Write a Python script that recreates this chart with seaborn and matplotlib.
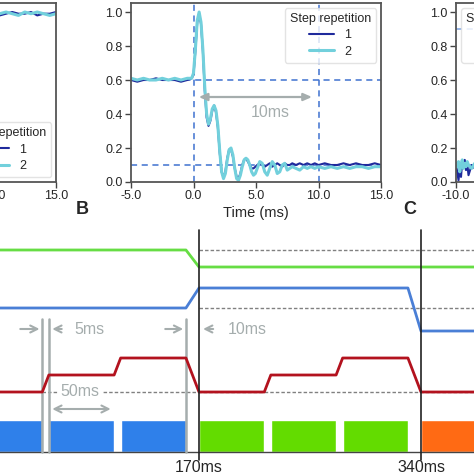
import pandas as pd
import matplotlib
matplotlib.use('Agg')
import matplotlib.pyplot as plt
import seaborn as sns

sns.set_style('ticks')
plt.rcParams['font.family'] = ['Liberation Sans', 'DejaVu Sans']
plt.rcParams['axes.unicode_minus'] = False

# ---------------- step responses ----------------
# panel A (only its right end is visible)
time_a = [9.0, 9.5, 10.0, 10.5, 11.0, 11.5, 12.0, 12.5, 13.0, 13.5, 14.0, 14.5, 15.0]
rep1_a = [0.99, 1.00, 0.99, 0.98, 0.99, 1.00, 0.99, 0.99, 1.00, 0.98, 0.99, 0.99, 1.00]
rep2_a = [1.00, 0.99, 1.00, 0.99, 1.00, 0.99, 0.98, 1.00, 0.99, 1.00, 0.99, 0.98, 0.99]

# panel B
pre_t = [-5.0, -4.5, -4.0, -3.5, -3.0, -2.5, -2.0, -1.5, -1.0, -0.5, -0.15]
step_t = [0.0, 0.15, 0.3, 0.45, 0.6, 0.75, 0.9, 1.05, 1.2, 1.35, 1.5, 1.65, 1.8, 1.95,
          2.1, 2.25, 2.4, 2.55, 2.7, 2.85, 3.0, 3.15, 3.3, 3.45, 3.6, 3.75, 3.9, 4.05,
          4.2, 4.35, 4.5, 4.65, 4.8, 4.95]
tail_t = [5.1, 5.3, 5.5, 5.7, 5.9, 6.1, 6.3, 6.5, 6.7, 6.9, 7.1, 7.3, 7.5, 7.7, 7.9, 8.2,
          8.5, 8.8, 9.1, 9.4, 9.7, 10.0, 10.5, 11.0, 11.5, 12.0, 12.5, 13.0, 13.5, 14.0,
          14.5, 15.0]
time_b = pre_t + step_t + tail_t

rep1_b = ([0.60, 0.59, 0.60, 0.60, 0.61, 0.60, 0.60, 0.60, 0.59, 0.60, 0.61]
          + [0.63, 0.77, 0.94, 0.99, 0.93, 0.77, 0.54, 0.38, 0.33, 0.36, 0.42, 0.45, 0.41,
             0.32, 0.17, 0.06, 0.03, 0.06, 0.14, 0.19, 0.19, 0.15, 0.08, 0.03, 0.02, 0.05,
             0.10, 0.13, 0.14, 0.12, 0.10, 0.08, 0.08, 0.09]
          + [0.10, 0.11, 0.10, 0.09, 0.10, 0.11, 0.09, 0.10, 0.11, 0.10, 0.09, 0.11, 0.10,
             0.10, 0.11, 0.10, 0.11, 0.10, 0.11, 0.10, 0.11, 0.10, 0.11, 0.10, 0.10, 0.11,
             0.10, 0.11, 0.10, 0.10, 0.11, 0.10])
rep2_b = ([0.61, 0.60, 0.61, 0.60, 0.60, 0.61, 0.60, 0.61, 0.60, 0.61, 0.61]
          + [0.64, 0.78, 0.95, 1.00, 0.94, 0.78, 0.56, 0.40, 0.34, 0.37, 0.43, 0.45, 0.42,
             0.33, 0.18, 0.06, 0.02, 0.05, 0.13, 0.19, 0.20, 0.16, 0.08, 0.02, 0.01, 0.04,
             0.09, 0.13, 0.14, 0.13, 0.10, 0.06, 0.04, 0.05]
          + [0.08, 0.12, 0.11, 0.06, 0.04, 0.08, 0.12, 0.10, 0.05, 0.06, 0.10, 0.11, 0.07,
             0.08, 0.09, 0.08, 0.07, 0.09, 0.08, 0.09, 0.08, 0.09, 0.08, 0.09, 0.08, 0.09,
             0.08, 0.09, 0.09, 0.08, 0.09, 0.09])

# panel C (only its left end is visible)
time_c = [-10.0, -9.8, -9.6, -9.4, -9.2, -9.0, -8.8, -8.6, -8.4, -8.2, -8.0, -7.5, -7.0, -6.5, -6.0]
rep1_c = [0.10, 0.06, 0.01, 0.08, 0.03, 0.12, 0.09, 0.13, 0.07, 0.11, 0.04, 0.10, 0.08, 0.12, 0.09]
rep2_c = [0.11, 0.09, 0.12, 0.06, 0.10, 0.13, 0.08, 0.11, 0.09, 0.12, 0.10, 0.08, 0.11, 0.10, 0.09]

# ---------------- timing diagram (ms, arbitrary levels) ----------------
green_t = [0, 160, 170, 400]
green_y = [224, 224, 207, 207]
blue_t = [0, 160, 170, 330, 340, 400]
blue_y = [166, 166, 186, 186, 143, 143]
red_t = [0, 50, 55, 105, 110, 160, 170, 220, 225, 275, 280, 330, 340, 400]
red_y = [82, 82, 99, 99, 116, 116, 82, 82, 99, 99, 116, 116, 82, 82]
blue_blocks = [(0, 50), (55, 50), (110, 50)]
green_blocks = [(170, 50), (225, 50), (280, 50)]
orange_blocks = [(340, 60)]
markers = [170, 340]
marker_labels = ['170ms', '340ms']

DARK = '#1f2a9c'
CYAN = '#72d0dc'
DASH_BLUE = '#3f72cf'
GRAY = '#a5adad'
W = H = 474


def px_rect(l, t, r, b):
    return [l / W, 1 - b / H, (r - l) / W, (b - t) / H]


def step_panel(rect, t, r1, r2, xlim, xticks, loc):
    ax = fig.add_axes(px_rect(*rect))
    sns.lineplot(x=t, y=r1, color=DARK, lw=1.5, label='1', ax=ax)
    sns.lineplot(x=t, y=r2, color=CYAN, lw=2.2, label='2', ax=ax)
    ax.set_xlim(*xlim)
    ax.set_ylim(0, 1.053)
    ax.set_xticks(xticks)
    ax.set_yticks([0, 0.2, 0.4, 0.6, 0.8, 1.0])
    ax.xaxis.set_major_formatter('{x:.1f}')
    ax.yaxis.set_major_formatter('{x:.1f}')
    ax.tick_params(labelsize=9, length=4, width=1, color='#444', pad=2)
    for s in ax.spines.values():
        s.set_color('#555')
        s.set_linewidth(1.3)
    leg = ax.legend(title='Step repetition', loc=loc, fontsize=9, title_fontsize=9,
                    borderaxespad=0.4, labelspacing=0.35)
    leg.get_frame().set_edgecolor('#dddddd')
    return ax


fig = plt.figure(figsize=(4.74, 4.74), dpi=100)

ax_a = step_panel((-194, 3, 56, 182), time_a, rep1_a, rep2_a, (-5, 15), [-5, 0, 5, 10, 15], 'lower right')

ax_b = step_panel((131, 3, 381, 182), time_b, rep1_b, rep2_b, (-5, 15), [-5, 0, 5, 10, 15], 'upper right')
for yv in (0.6, 0.1):
    ax_b.axhline(yv, color=DASH_BLUE, lw=1.1, ls=(0, (4, 3)), zorder=1)
for xv in (0, 10):
    ax_b.axvline(xv, color=DASH_BLUE, lw=1.1, ls=(0, (4, 3)), zorder=1)
ax_b.annotate('', xy=(0.2, 0.5), xytext=(9.7, 0.5),
              arrowprops=dict(arrowstyle='<|-|>,head_length=0.5,head_width=0.22', color=GRAY, lw=1.6))
ax_b.text(6.1, 0.41, '10ms', color=GRAY, fontsize=11.5, ha='center', va='center')
ax_b.set_xlabel('Time (ms)', fontsize=10.5, labelpad=3)

ax_c = step_panel((456, 3, 706, 182), time_c, rep1_c, rep2_c, (-10, 30), [-10, 0, 10, 20, 30], 'upper left')
for yv in (0.9, 0.1):
    ax_c.axhline(yv, color='#7aa3e4', lw=1.1, ls=(0, (4, 3)), zorder=1)

fig.text(82 / W, 1 - 210 / H, 'B', fontsize=13, weight='bold', ha='center', va='center')
fig.text(410 / W, 1 - 209 / H, 'C', fontsize=13, weight='bold', ha='center', va='center')

# ---------------- bottom timing diagram ----------------
ax_t = fig.add_axes(px_rect(0, 224, 474, 474))
ax_t.axis('off')
ax_t.set_xlim(17.6, 380.6)
ax_t.set_ylim(0, 250)

dots = dict(color='#808080', lw=1.0, ls=(0, (2.5, 1.5)), zorder=1)
ax_t.plot([170, 400], [224, 224], **dots)
ax_t.plot([170, 400], [166, 166], **dots)
ax_t.plot([50, 400], [82, 82], **dots)

ax_t.broken_barh(blue_blocks, (22, 32), facecolors='#2f80ea', zorder=2)
ax_t.broken_barh(green_blocks, (22, 32), facecolors='#63dc00', zorder=2)
ax_t.broken_barh(orange_blocks, (22, 32), facecolors='#ff6a14', zorder=2)
ax_t.plot([0, 400], [22, 22], color='#444', lw=1.0, zorder=3)

sns.lineplot(x=green_t, y=green_y, color='#66dd44', lw=2, ax=ax_t, zorder=4)
sns.lineplot(x=blue_t, y=blue_y, color='#4a7fd6', lw=2, ax=ax_t, zorder=4)
sns.lineplot(x=red_t, y=red_y, color='#b3121e', lw=2, ax=ax_t, zorder=4, sort=False)

for m, lab in zip(markers, marker_labels):
    ax_t.plot([m, m], [14, 244], color='#222', lw=1.2, zorder=5)
    ax_t.text(m, 1.5, lab, fontsize=11.5, ha='center', va='baseline')

for xv in (50, 55, 160):
    ax_t.plot([xv, xv], [22, 155], color=GRAY, lw=1.8, zorder=3)

arr = dict(arrowstyle='->,head_length=0.5,head_width=0.25', color=GRAY, lw=1.5)
ax_t.annotate('', xy=(50, 145), xytext=(31, 145), arrowprops=arr)
ax_t.annotate('', xy=(55.5, 145), xytext=(67, 145), arrowprops=arr)
ax_t.annotate('', xy=(160, 145), xytext=(142, 145), arrowprops=arr)
ax_t.annotate('', xy=(171, 145), xytext=(183, 145), arrowprops=arr)
ax_t.annotate('', xy=(55.5, 65), xytext=(104.5, 65),
              arrowprops=dict(arrowstyle='<->,head_length=0.5,head_width=0.25', color=GRAY, lw=1.5))
ax_t.text(85.8, 145, '5ms', color=GRAY, fontsize=11.5, ha='center', va='center')
ax_t.text(207, 145, '10ms', color=GRAY, fontsize=11.5, ha='center', va='center')
ax_t.text(79, 82, '50ms', color=GRAY, fontsize=11.5, ha='center', va='center', zorder=6,
          bbox=dict(facecolor='white', edgecolor='none', pad=1.5))

fig.savefig('out.png', dpi=100)
